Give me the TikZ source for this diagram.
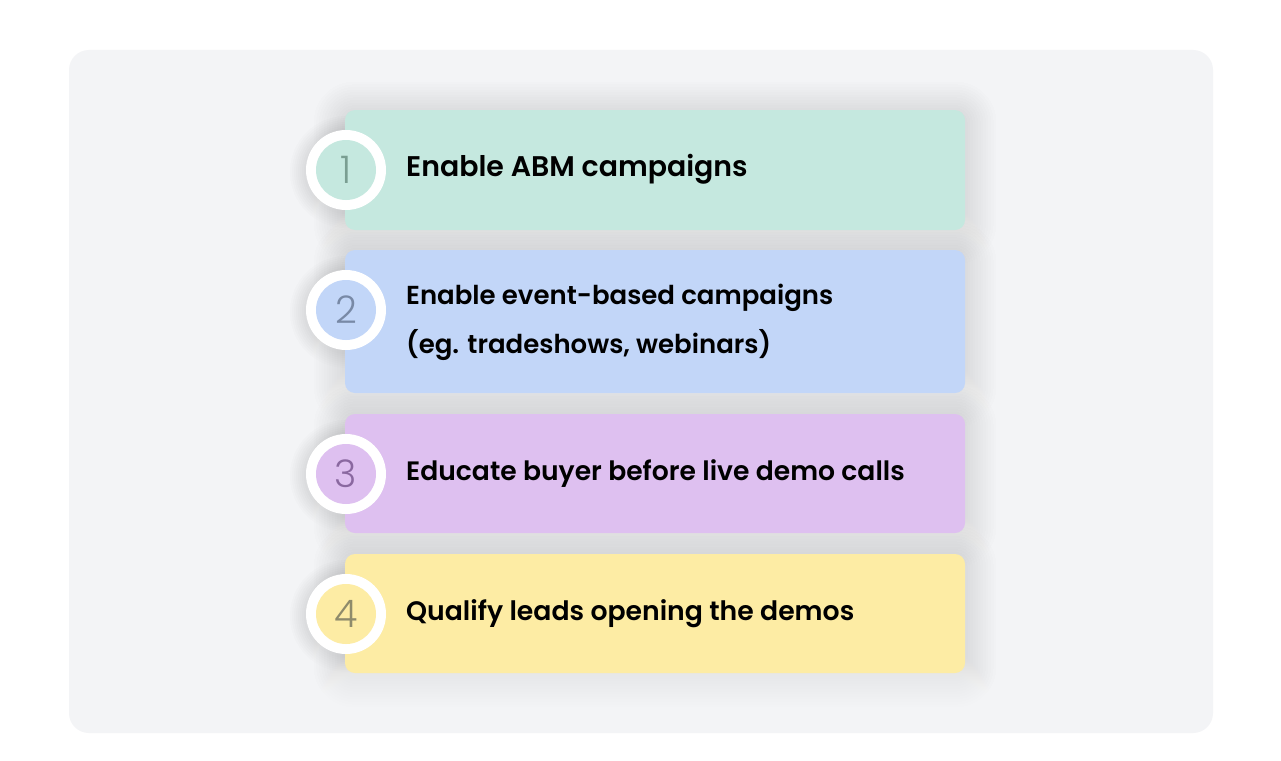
\documentclass[tikz,border=0pt]{standalone}
\usepackage{fontspec}
\setmainfont{Poppins}
\newfontfamily\semib{Poppins SemiBold}
\newfontfamily\lightf{Poppins Light}
\definecolor{panel}{HTML}{F3F4F6}
\definecolor{fillA}{HTML}{C5E8DF}
\definecolor{fillB}{HTML}{C2D6F8}
\definecolor{fillC}{HTML}{DEC0F0}
\definecolor{fillD}{HTML}{FDECA4}
\definecolor{numA}{HTML}{7A9E92}
\definecolor{numB}{HTML}{7889A6}
\definecolor{numC}{HTML}{8A68A0}
\definecolor{numD}{HTML}{8E8B6B}
\definecolor{shade}{HTML}{4A4F6A}
\newcommand\cardshadow[4]{%
  \foreach \i in {1,...,12}{%
    \fill[shade, opacity=0.0045, rounded corners={10pt+\i*2.5pt}]
      ({#1-\i*2.6},{#2-\i*2.6+3}) rectangle ({#3+\i*2.6},{#4+\i*2.6+3});
  }}
\newcommand\ringshadow[2]{%
  \foreach \i in {1,...,8}{%
    \fill[shade, opacity=0.006] (#1,{#2+2}) circle ({40+\i*2});
  }}
\tikzset{
  card/.style={rounded corners=10pt},
  ring/.style={circle, fill=white, minimum size=80pt, inner sep=0pt},
  disc/.style={circle, minimum size=60pt, inner sep=0pt, font=\lightf\fontsize{38}{38}\selectfont},
  label/.style={anchor=west, align=left, inner sep=0pt, text=black}
}
\begin{document}
\begin{tikzpicture}[x=1pt,y=-1pt]
\useasboundingbox (0,0) rectangle (1281,760);
\fill[white] (0,0) rectangle (1281,760);
\fill[panel, rounded corners=20pt] (69,50) rectangle (1213,733);
% shadows
\cardshadow{345}{110}{965}{230}
\cardshadow{345}{250}{965}{393}
\cardshadow{345}{414}{965}{533}
\cardshadow{345}{554}{965}{673}
\ringshadow{346}{170}
\ringshadow{346}{310}
\ringshadow{346}{474}
\ringshadow{346}{614}
% cards
\path[card, fill=fillA] (345,110) rectangle (965,230);
\path[card, fill=fillB] (345,250) rectangle (965,393);
\path[card, fill=fillC] (345,414) rectangle (965,533);
\path[card, fill=fillD] (345,554) rectangle (965,673);
% rings
\node[ring] (r1) at (346,170) {};
\node[ring] (r2) at (346,310) {};
\node[ring] (r3) at (346,474) {};
\node[ring] (r4) at (346,614) {};
\node[disc, fill=fillA, text=numA] (n1) at (r1) {1};
\node[disc, fill=fillB, text=numB] (n2) at (r2) {2};
\node[disc, fill=fillC, text=numC] (n3) at (r3) {3};
\node[disc, fill=fillD, text=numD] (n4) at (r4) {4};
% labels
\node[label, font=\semib\fontsize{28.4}{49}\selectfont] (t1) at (406,169) {Enable ABM campaigns};
\node[label, font=\semib\fontsize{26}{49}\selectfont] (t2) at (406,322) {Enable event-based campaigns\\(eg. tradeshows, webinars)};
\node[label, font=\semib\fontsize{26.6}{49}\selectfont] (t3) at (406,474) {Educate buyer before live demo calls};
\node[label, font=\semib\fontsize{26.7}{49}\selectfont] (t4) at (406,614) {Qualify leads opening the demos};
\end{tikzpicture}
\end{document}
